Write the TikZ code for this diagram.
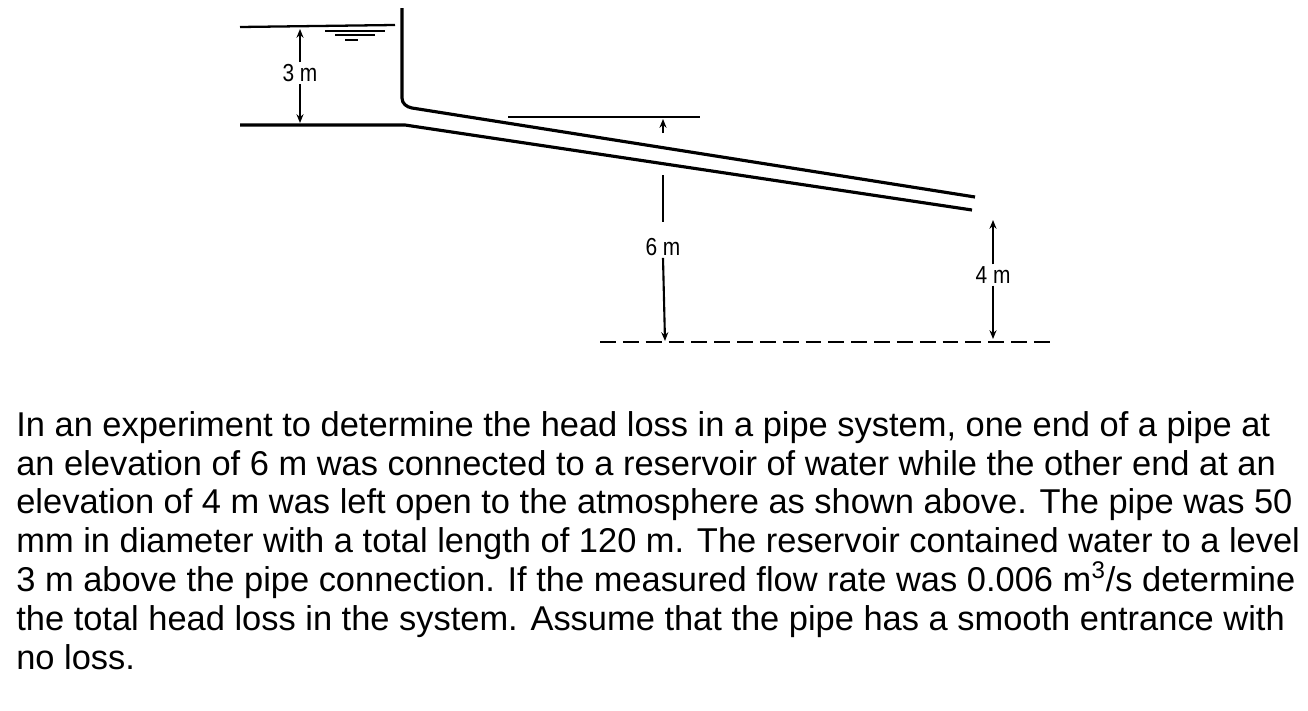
\documentclass[tikz,border=0pt]{standalone}
\usepackage{fontspec}
\setmainfont{Liberation Sans}
\usetikzlibrary{positioning,arrows.meta}

\begin{document}
\begin{tikzpicture}[x=0.02cm,y=-0.02cm,
  wall/.style={line width=1.8pt},
  dim/.style={line width=1.2pt,-{Stealth[length=5pt,width=4pt]}},
  lbl/.style={font=\fontsize{14}{15}\selectfont, inner sep=1pt, xscale=0.85}]
  \useasboundingbox (0,0) rectangle (1308,710);

  % reservoir and pipe
  \coordinate (WaL) at (240,27);
  \coordinate (WaR) at (395,25);
  \draw[line width=1.3pt] (WaL) -- (WaR);
  \draw[wall] (402,8) -- (402,98) to[out=-90,in=170] (412,108) -- (975,197);
  \draw[wall] (240,125) -- (405,125) -- (972,210);
  \draw[line width=1.3pt] (325,31) -- (385,31);
  \draw[line width=1.1pt] (335,35) -- (375,35);
  \draw[line width=1pt] (345,40) -- (358,40);

  % 3 m
  \node[lbl] (Th) at (300,73) {3 m};
  \draw[dim] (Th.north) -- (300,29);
  \draw[dim] (Th.south) -- (300,123);

  % 6 m
  \coordinate (RefL) at (508,117);
  \coordinate (RefR) at (700,117);
  \draw[line width=1.2pt] (RefL) -- (RefR);
  \draw[dim] (663,133) -- (663,119);
  \draw[line width=1.4pt] (663,175) -- (663,222);
  \node[lbl] (Si) at (663,247) {6 m};
  \draw[dim] (Si.south) -- (665,341);

  % 4 m
  \node[lbl] (Fo) at (993,275) {4 m};
  \draw[dim] (Fo.north) -- (993,220);
  \draw[dim] (Fo.south) -- (993,339);

  % datum
  \draw[line width=1.2pt, dash pattern=on 9pt off 4pt] (600,342) -- (1055,342);

  % problem text
  \node[anchor=north west, align=left, inner sep=0pt,
        font=\fontsize{19.6}{22.1}\selectfont] (Tx) at (16,411)
  {In an experiment to determine the head loss in a pipe system, one end of a pipe at\\
   an elevation of 6 m was connected to a reservoir of water while the other end at an\\
   elevation of 4 m was left open to the atmosphere as shown above. The pipe was 50\\
   mm in diameter with a total length of 120 m. The reservoir contained water to a level\\
   3 m above the pipe connection. If the measured flow rate was 0.006 m\textsuperscript{3}/s determine\\
   the total head loss in the system. Assume that the pipe has a smooth entrance with\\
   no loss.};
\end{tikzpicture}
\end{document}
